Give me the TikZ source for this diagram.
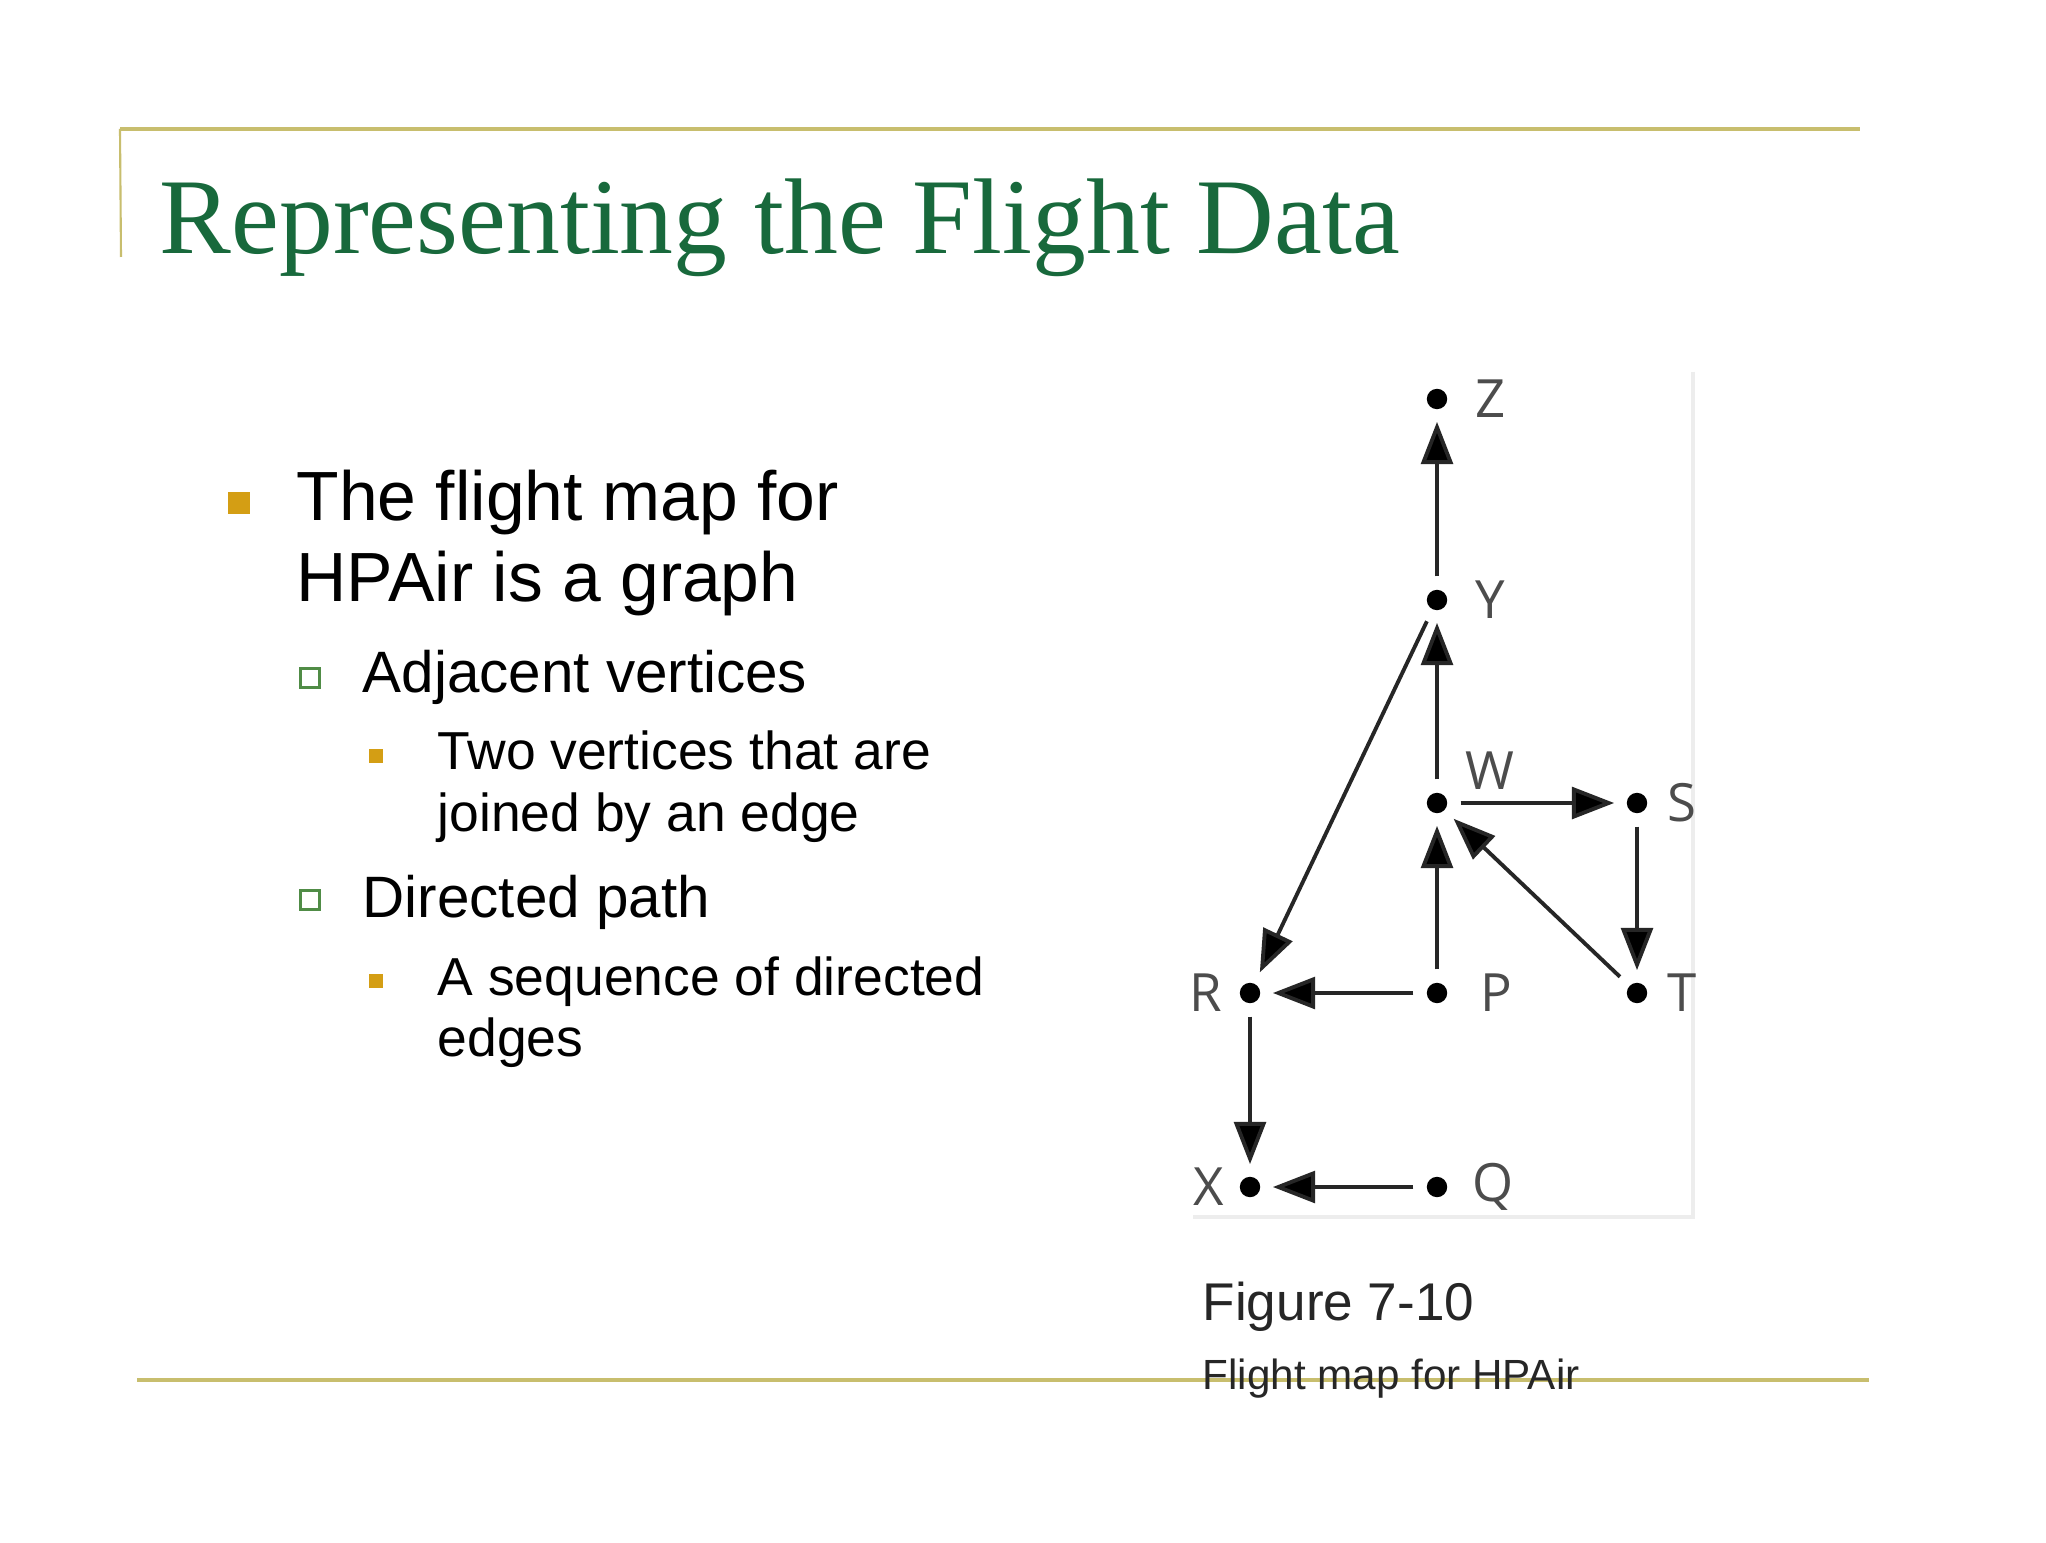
\documentclass[tikz,border=0pt]{standalone}
\usepackage{fontspec}
\setmainfont{Liberation Sans}
\newfontfamily\titlefont{Liberation Serif}
\newfontfamily\labelfont{Open Sans}
\usetikzlibrary{arrows.meta}
\definecolor{rulecol}{RGB}{200,190,110}
\definecolor{titlegreen}{RGB}{24,105,60}
\definecolor{bulletor}{RGB}{212,158,20}
\definecolor{bulletgr}{RGB}{80,140,70}
\begin{document}
\begin{tikzpicture}[x=0.01cm,y=-0.01cm,
  dot/.style={circle,fill=black,inner sep=0pt,minimum size=5.8pt},
  edge/.style={draw=black!85,line width=1.1pt,-{Triangle[length=12pt,width=9pt,fill=black]},shorten <=3.6pt,shorten >=3.4pt},
  lbl/.style={font=\labelfont\fontsize{15pt}{18pt}\selectfont,text=black!70,inner sep=0pt},
  txt/.style={anchor=base west,inner sep=0pt,text=black},
  lvlone/.style={txt,font=\fontsize{19.8pt}{24pt}\selectfont},
  lvltwo/.style={txt,font=\fontsize{16.6pt}{20pt}\selectfont},
  lvlthree/.style={txt,font=\fontsize{15.2pt}{18pt}\selectfont},
  bigsq/.style={fill=bulletor,inner sep=0pt,minimum size=6pt},
  hollowsq/.style={draw=bulletgr,line width=0.9pt,fill=white,inner sep=0pt,minimum size=5.2pt},
  smallsq/.style={fill=bulletor,inner sep=0pt,minimum size=4pt},
  rule/.style={draw=rulecol,line width=1.4pt}]
\useasboundingbox (0,0) rectangle (2046,1543);
\fill[white] (0,0) rectangle (2046,1543);

% rules
\coordinate (tl) at (120,129);
\coordinate (tr) at (1860,129);
\coordinate (tv) at (121,257);
\coordinate (bl) at (137,1380);
\coordinate (br) at (1869,1380);
\draw[rule] (tl) -- (tr);
\draw[draw=rulecol,line width=0.6pt] (tl) -- (tv);
\draw[rule] (bl) -- (br);

% title
\node[anchor=base west,inner sep=0pt,text=titlegreen,font=\titlefont\fontsize{30.6pt}{36pt}\selectfont] (title) at (159,254) {Representing the Flight Data};

% bullets
\node[bigsq] (b1) at (239,503) {};
\node[lvlone] (t1a) at (296,521) {The flight map for};
\node[lvlone] (t1b) at (296,602) {HPAir is a graph};
\node[hollowsq] (b2) at (310,678) {};
\node[lvltwo] (t2) at (362,692) {Adjacent vertices};
\node[smallsq] (b3) at (376,756) {};
\node[lvlthree] (t3a) at (437,769) {Two vertices that are};
\node[lvlthree] (t3b) at (437,831) {joined by an edge};
\node[hollowsq] (b4) at (310,900) {};
\node[lvltwo] (t4) at (362,917) {Directed path};
\node[smallsq] (b5) at (376,981) {};
\node[lvlthree] (t5a) at (437,995) {A sequence of directed};
\node[lvlthree] (t5b) at (437,1056) {edges};

% figure frame
\coordinate (f1) at (1693,372);
\coordinate (f2) at (1693,1217);
\coordinate (f3) at (1193,1217);
\draw[draw=black!7,line width=0.9pt] (f1) -- (f2) -- (f3);

% vertices
\node[dot] (Z) at (1437,399) {};
\node[dot] (Y) at (1437,600) {};
\node[dot] (W) at (1437,803) {};
\node[dot] (S) at (1637,803) {};
\node[dot] (R) at (1250,993) {};
\node[dot] (P) at (1437,993) {};
\node[dot] (T) at (1637,993) {};
\node[dot] (X) at (1250,1187) {};
\node[dot] (Q) at (1437,1187) {};

% labels
\node[lbl,anchor=west] (Zl) at (1475,399) {Z};
\node[lbl,anchor=west] (Yl) at (1475,600) {Y};
\node[lbl,anchor=west] (Wl) at (1465,771) {W};
\node[lbl,anchor=west] (Sl) at (1667,803) {S};
\node[lbl,anchor=east] (Rl) at (1223,993) {R};
\node[lbl,anchor=west] (Pl) at (1480,993) {P};
\node[lbl,anchor=west] (Tl) at (1667,993) {T};
\node[lbl,anchor=east] (Xl) at (1225,1187) {X};
\node[lbl,anchor=west] (Ql) at (1472,1187) {Q};

% edges
\draw[edge] (Y) -- (Z);
\draw[edge] (W) -- (Y);
\draw[edge] (P) -- (W);
\draw[edge] (W) -- (S);
\draw[edge] (S) -- (T);
\draw[edge] (T) -- (W);
\draw[edge] (P) -- (R);
\draw[edge] (R) -- (X);
\draw[edge] (Q) -- (X);
\draw[edge] (Y) -- (R);

% caption
\node[txt,text=black!85,font=\fontsize{15.1pt}{18pt}\selectfont] (cap1) at (1202,1320) {Figure 7-10};
\node[txt,text=black!85,font=\fontsize{12pt}{14pt}\selectfont] (cap2) at (1202,1389) {Flight map for HPAir};
\end{tikzpicture}
\end{document}
